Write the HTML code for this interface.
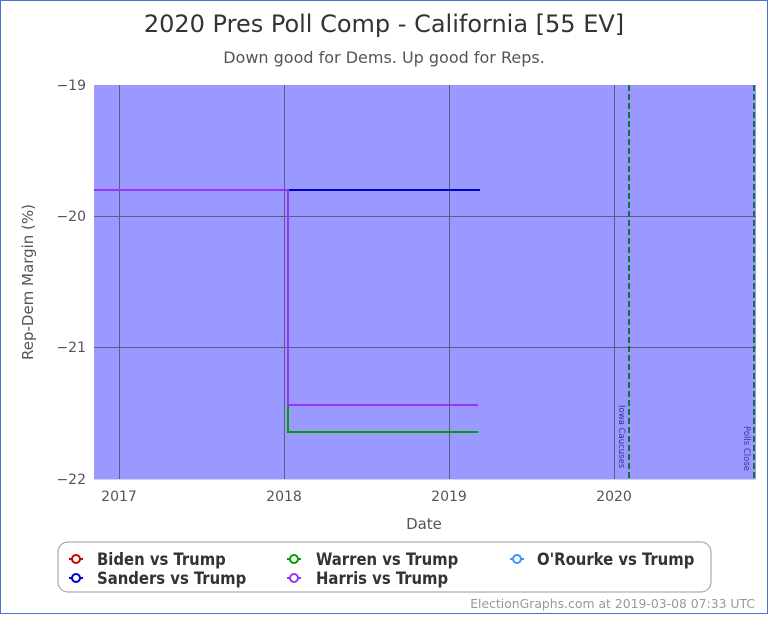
<!DOCTYPE html>
<html><head><style>
body{margin:0;width:768px;height:614px;overflow:hidden;background:#fff}
</style></head><body>
<svg width="768" height="614" xmlns="http://www.w3.org/2000/svg" font-family="DejaVu Sans, sans-serif">
<rect x="0.5" y="0.5" width="767" height="613" fill="#fff" stroke="#4a6fd0"/>
<text x="384" y="32" text-anchor="middle" font-size="24" fill="#333">2020 Pres Poll Comp - California [55 EV]</text>
<text x="384" y="63" text-anchor="middle" font-size="16" fill="#555">Down good for Dems. Up good for Reps.</text>
<rect x="94" y="85" width="662" height="394" fill="#9999ff"/>
<g stroke="#444" stroke-width="1" opacity="0.7">
<line x1="94" y1="216.5" x2="756" y2="216.5"/>
<line x1="94" y1="347.5" x2="756" y2="347.5"/>
<line x1="119.5" y1="85" x2="119.5" y2="479"/>
<line x1="284.5" y1="85" x2="284.5" y2="479"/>
<line x1="449.5" y1="85" x2="449.5" y2="479"/>
<line x1="614.5" y1="85" x2="614.5" y2="479"/>
</g>
<line x1="94" y1="479.5" x2="756" y2="479.5" stroke="#ccd6eb"/>
<g stroke="#1a6e3a" stroke-width="2" stroke-dasharray="6,3">
<line x1="629" y1="85" x2="629" y2="479"/>
<line x1="754" y1="85" x2="754" y2="479"/>
</g>
<text transform="translate(619,405) rotate(90)" font-size="8.5" fill="#333399">Iowa Caucuses</text>
<text transform="translate(744,426) rotate(90)" font-size="8.5" fill="#333399">Polls Close</text>
<polyline points="288,405 288,432 478,432" fill="none" stroke="#00a000" stroke-width="2"/>
<line x1="94" y1="190" x2="480" y2="190" stroke="#0000cc" stroke-width="2"/>
<polyline points="94,190 288,190 288,405 478,405" fill="none" stroke="#9933ff" stroke-width="2"/>
<g font-size="14" fill="#555" text-anchor="end">
<text x="86" y="90">−19</text><text x="86" y="221">−20</text><text x="86" y="352">−21</text><text x="86" y="484">−22</text>
</g>
<g font-size="14" fill="#555" text-anchor="middle">
<text x="119" y="501">2017</text><text x="284" y="501">2018</text><text x="449" y="501">2019</text><text x="614" y="501">2020</text>
</g>
<text x="424" y="529" text-anchor="middle" font-size="15" fill="#555">Date</text>
<text transform="translate(33,282) rotate(-90)" text-anchor="middle" font-size="15" fill="#555">Rep-Dem Margin (%)</text>
<rect x="58" y="542" width="653" height="50" rx="10" fill="#fff" stroke="#999"/>
<g stroke-width="2" fill="none">
<line x1="69" y1="559" x2="83" y2="559" stroke="#cc0000"/><circle cx="76" cy="559" r="4" stroke="#cc0000" fill="#fff"/>
<line x1="69" y1="578" x2="83" y2="578" stroke="#0000cc"/><circle cx="76" cy="578" r="4" stroke="#0000cc" fill="#fff"/>
<line x1="287" y1="559" x2="301" y2="559" stroke="#00a000"/><circle cx="294" cy="559" r="4" stroke="#00a000" fill="#fff"/>
<line x1="287" y1="578" x2="301" y2="578" stroke="#9933ff"/><circle cx="294" cy="578" r="4" stroke="#9933ff" fill="#fff"/>
<line x1="510" y1="559" x2="524" y2="559" stroke="#3399ff"/><circle cx="517" cy="559" r="4" stroke="#3399ff" fill="#fff"/>
</g>
<g font-size="16.5" font-weight="bold" fill="#333" font-family="DejaVu Sans Condensed, DejaVu Sans, sans-serif">
<text x="97" y="565">Biden vs Trump</text>
<text x="97" y="584">Sanders vs Trump</text>
<text x="316" y="565">Warren vs Trump</text>
<text x="316" y="584">Harris vs Trump</text>
<text x="537" y="565">O'Rourke vs Trump</text>
</g>
<text x="755" y="608" text-anchor="end" font-size="12.4" fill="#999">ElectionGraphs.com at 2019-03-08 07:33 UTC</text>
</svg>
</body></html>
